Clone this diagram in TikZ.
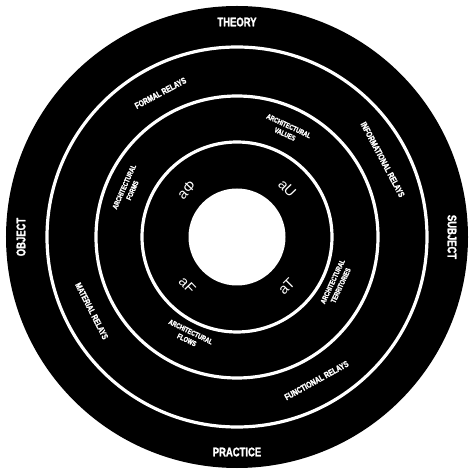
\documentclass[tikz,border=0pt]{standalone}
\usepackage{fontspec}
\setmainfont{Liberation Sans}
\newfontfamily\condfont[UprightFont={* Bold},FakeStretch=0.76,FakeBold=1.6]{Liberation Sans}
\usetikzlibrary{positioning}
\tikzset{
    disc/.style = {fill=black},
    hole/.style = {fill=white},
    ring/.style = {draw=white, line width=3.2pt},
    axislbl/.style = {text=white, font=\condfont\fontsize{12.5}{12.5}\selectfont, inner sep=0pt},
    relaylbl/.style = {text=white, font=\condfont\fontsize{8.8}{8.8}\selectfont, inner sep=0pt},
    archlbl/.style = {text=white, align=center, font=\condfont\fontsize{7.4}{9}\selectfont, inner sep=0pt},
    innerlbl/.style = {text=white, font=\fontsize{14.5}{14.5}\selectfont, inner sep=0pt}
}
\begin{document}
\begin{tikzpicture}[x=1bp,y=1bp]
\path[use as bounding box] (-237,-237) rectangle (237,237);
% disc and rings
\fill[disc] (0,0) circle (231);
\draw[ring] (0,0) circle (190);
\draw[ring] (0,0) circle (141);
\draw[ring] (0,0) circle (95);
\fill[hole] (0,0) circle (48.5);
% axes
\node[axislbl] at (90:215) (theory) {THEORY};
\node[axislbl] at (270:215) (practice) {PRACTICE};
\node[axislbl, rotate=90] at (180:216) (object) {OBJECT};
\node[axislbl, rotate=-90] at (0:215) (subject) {SUBJECT};
% relays
\node[relaylbl, rotate=28] at (118:163) (formal) {FORMAL RELAYS};
\node[relaylbl, rotate=-62] at (28:165) (informational) {INFORMATIONAL RELAYS};
\node[relaylbl, rotate=-63] at (207:163) (material) {MATERIAL RELAYS};
\node[relaylbl, rotate=29] at (-61:164) (functional) {FUNCTIONAL RELAYS};
% architectural
\node[archlbl, rotate=-25] at (65:118) (values) {ARCHITECTURAL\\VALUES};
\node[archlbl, rotate=66] at (156:119) (forms) {ARCHITECTURAL\\FORMS};
\node[archlbl, rotate=-26] at (244:110) (flows) {ARCHITECTURAL\\FLOWS};
\node[archlbl, rotate=65] at (-25:110) (territories) {ARCHITECTURAL\\TERRITORIES};
% inner
\node[innerlbl, rotate=47] at (137:69) (aphi) {aΦ};
\node[innerlbl, rotate=-46] at (44:70) (au) {aU};
\node[innerlbl, rotate=-46] at (224:69) (af) {aF};
\node[innerlbl, rotate=45] at (-45:70) (at) {aT};
\end{tikzpicture}
\end{document}
